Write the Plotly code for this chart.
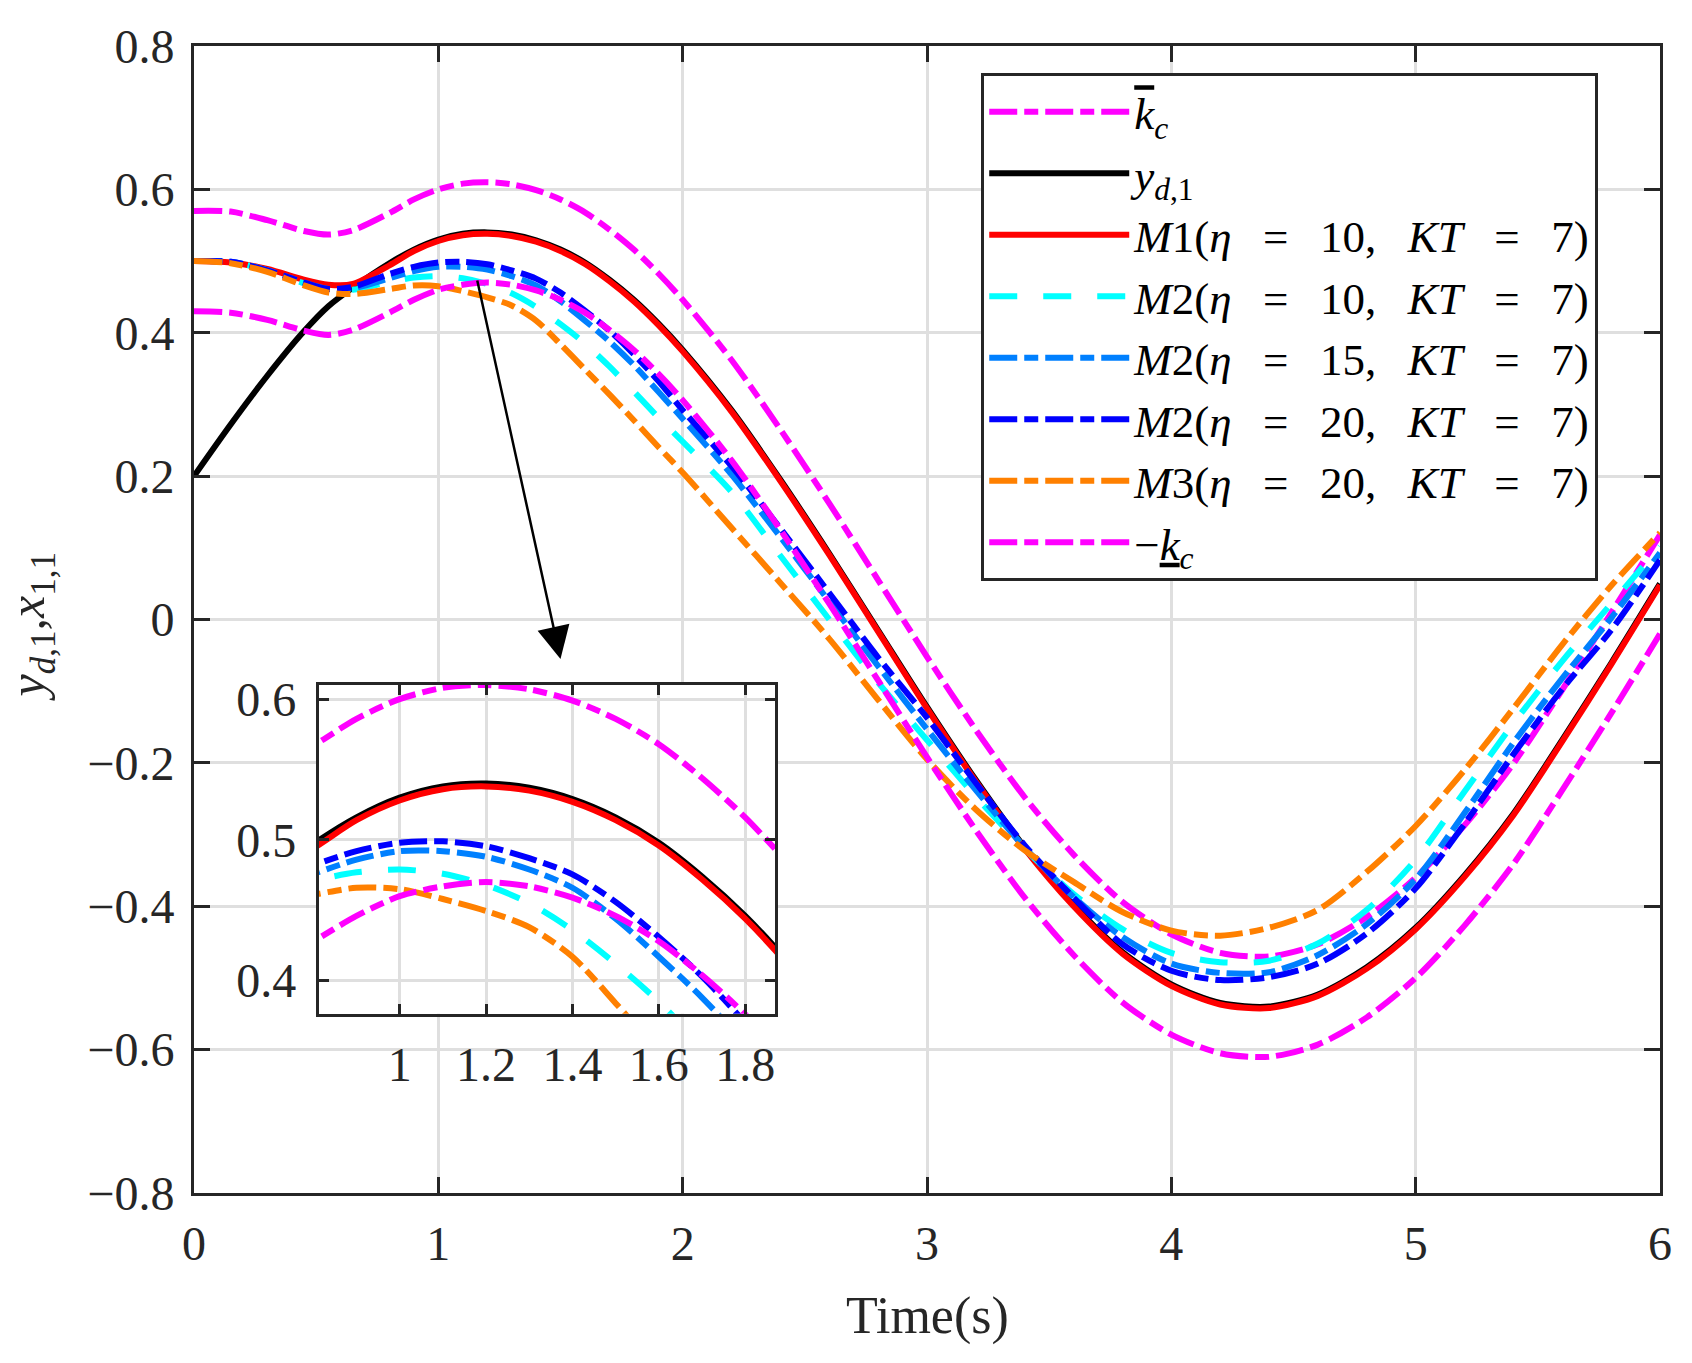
import plotly.graph_objects as go

# ---------------- data ----------------
t = [0, 0.15, 0.3, 0.45, 0.55, 0.65, 0.8, 0.9, 1.0, 1.1, 1.2, 1.3, 1.4, 1.5, 1.6, 1.7, 1.8, 1.9,
     2.0, 2.2, 2.4, 2.6, 2.8, 3.0, 3.2, 3.4, 3.6, 3.8, 4.0, 4.2, 4.4, 4.6, 4.8, 5.0, 5.2, 5.4,
     5.6, 5.8, 6.0]

kc_upper = [0.570, 0.569, 0.557, 0.542, 0.537, 0.543, 0.567, 0.586, 0.600, 0.608, 0.610, 0.607,
            0.599, 0.586, 0.568, 0.544, 0.516, 0.483, 0.446, 0.362, 0.265, 0.162, 0.055, -0.052,
            -0.154, -0.248, -0.328, -0.394, -0.439, -0.465, -0.470, -0.453, -0.415, -0.360,
            -0.287, -0.201, -0.098, 0.009, 0.118]

yd1 = [0.200, 0.272, 0.340, 0.402, 0.437, 0.463, 0.497, 0.516, 0.530, 0.538, 0.540, 0.537,
       0.529, 0.516, 0.498, 0.474, 0.446, 0.413, 0.376, 0.292, 0.195, 0.092, -0.015, -0.122,
       -0.224, -0.318, -0.398, -0.464, -0.509, -0.535, -0.540, -0.523, -0.485, -0.430, -0.357,
       -0.271, -0.168, -0.061, 0.050]

m1_eta10 = [0.500, 0.498, 0.489, 0.474, 0.467, 0.468, 0.494, 0.514, 0.528, 0.536, 0.538, 0.535,
            0.527, 0.514, 0.496, 0.472, 0.444, 0.411, 0.374, 0.290, 0.193, 0.090, -0.017, -0.124,
            -0.226, -0.320, -0.400, -0.466, -0.511, -0.537, -0.542, -0.525, -0.487, -0.432,
            -0.359, -0.273, -0.170, -0.063, 0.048]

m2_eta10 = [0.500, 0.499, 0.487, 0.469, 0.460, 0.460, 0.471, 0.477, 0.479, 0.476, 0.468, 0.455,
            0.436, 0.412, 0.385, 0.353, 0.318, 0.282, 0.248, 0.178, 0.089, 0.000, -0.088, -0.168,
            -0.247, -0.320, -0.383, -0.432, -0.465, -0.478, -0.476, -0.452, -0.405, -0.335,
            -0.240, -0.145, -0.058, 0.022, 0.102]

m2_eta15 = [0.500, 0.499, 0.487, 0.470, 0.461, 0.462, 0.476, 0.486, 0.492, 0.492, 0.488, 0.479,
            0.466, 0.444, 0.417, 0.388, 0.355, 0.318, 0.280, 0.202, 0.115, 0.025, -0.065, -0.153,
            -0.238, -0.318, -0.387, -0.443, -0.480, -0.493, -0.492, -0.468, -0.425, -0.362,
            -0.270, -0.172, -0.082, 0.002, 0.093]

m2_eta20 = [0.500, 0.499, 0.487, 0.470, 0.461, 0.464, 0.482, 0.492, 0.498, 0.499, 0.4955, 0.487,
            0.4755, 0.456, 0.431, 0.403, 0.370, 0.333, 0.292, 0.214, 0.127, 0.037, -0.053, -0.137,
            -0.228, -0.315, -0.388, -0.453, -0.490, -0.503, -0.499, -0.480, -0.438, -0.375,
            -0.285, -0.188, -0.097, -0.015, 0.083]

m3_eta20 = [0.500, 0.497, 0.485, 0.466, 0.456, 0.454, 0.461, 0.466, 0.465, 0.458, 0.4495, 0.438,
            0.417, 0.384, 0.349, 0.314, 0.278, 0.241, 0.205, 0.128, 0.051, -0.027, -0.112, -0.195,
            -0.265, -0.322, -0.366, -0.408, -0.434, -0.441, -0.430, -0.405, -0.352, -0.288,
            -0.210, -0.124, -0.035, 0.047, 0.121]

kc_lower = [0.430, 0.428, 0.418, 0.403, 0.397, 0.404, 0.428, 0.446, 0.460, 0.467, 0.470, 0.467,
            0.459, 0.446, 0.428, 0.404, 0.376, 0.343, 0.306, 0.222, 0.125, 0.022, -0.085, -0.192,
            -0.294, -0.388, -0.468, -0.534, -0.579, -0.605, -0.610, -0.593, -0.555, -0.500,
            -0.427, -0.341, -0.238, -0.131, -0.020]

x_ticks = [0, 1, 2, 3, 4, 5, 6]
y_ticks = [-0.8, -0.6, -0.4, -0.2, 0, 0.2, 0.4, 0.6, 0.8]
y_tick_text = ["\u22120.8", "\u22120.6", "\u22120.4", "\u22120.2", "0", "0.2", "0.4", "0.6", "0.8"]
inset_x_ticks = [1.0, 1.2, 1.4, 1.6, 1.8]
inset_x_text = ["1", "1.2", "1.4", "1.6", "1.8"]
inset_y_ticks = [0.4, 0.5, 0.6]
inset_y_text = ["0.4", "0.5", "0.6"]

EQ = "\u2002\u2009=\u2002\u2009"   # math spacing around '='
CM = ",\u2002\u2009"
labels = [
    "<span style='text-decoration:overline'><i>k</i></span><sub><i>c</i></sub>",
    "<i>y</i><sub><i>d</i>,1</sub>",
    f"<i>M</i>1(<i>\u03b7</i>{EQ}10{CM}<i>KT</i>{EQ}7)",
    f"<i>M</i>2(<i>\u03b7</i>{EQ}10{CM}<i>KT</i>{EQ}7)",
    f"<i>M</i>2(<i>\u03b7</i>{EQ}15{CM}<i>KT</i>{EQ}7)",
    f"<i>M</i>2(<i>\u03b7</i>{EQ}20{CM}<i>KT</i>{EQ}7)",
    f"<i>M</i>3(<i>\u03b7</i>{EQ}20{CM}<i>KT</i>{EQ}7)",
    "\u2212<span style='text-decoration:underline'><i>k</i></span><sub><i>c</i></sub>",
]

# ---------------- styles ----------------
DASHDOT = "28px,7px,14px,7px"
DASHED = "28px,26px"
series = [
    (kc_upper, "#FF00FF", DASHDOT),
    (yd1, "#000000", "solid"),
    (m1_eta10, "#FF0000", "solid"),
    (m2_eta10, "#00FFFF", DASHED),
    (m2_eta15, "#0080FF", DASHDOT),
    (m2_eta20, "#0000FF", DASHDOT),
    (m3_eta20, "#FF8000", DASHDOT),
    (kc_lower, "#FF00FF", DASHDOT),
]
LW = 6
FONT = "Liberation Serif"
AX = "#262626"

fig = go.Figure()
for (vals, col, dash), lab in zip(series, labels):
    fig.add_trace(go.Scatter(x=t, y=vals, mode="lines", name=lab,
                             line=dict(color=col, width=LW, dash=dash, shape="spline", smoothing=0.8),
                             xaxis="x", yaxis="y"))
for (vals, col, dash), lab in zip(series, labels):
    fig.add_trace(go.Scatter(x=t, y=vals, mode="lines", showlegend=False,
                             line=dict(color=col, width=LW, dash=dash, shape="spline", smoothing=0.8),
                             xaxis="x2", yaxis="y2"))

axis_common = dict(
    showline=True, linecolor=AX, linewidth=3, mirror="ticks",
    ticks="inside", tickcolor=AX, tickwidth=2.5,
    showgrid=True, gridcolor="#dfdfdf", gridwidth=2.5, zeroline=False,
    tickfont=dict(family=FONT, size=48, color=AX),
)

# the page body has an 8px margin, so the figure is sized to fit the window
fig.update_layout(
    width=1684, height=1355,
    margin=dict(l=186, r=32, t=34, b=170),
    paper_bgcolor="white", plot_bgcolor="white",
    xaxis=dict(domain=[0, 1], range=[0, 6], tickvals=x_ticks, ticklen=16,
               ticklabelstandoff=6, **axis_common),
    yaxis=dict(domain=[0, 1], range=[-0.8, 0.8], tickvals=y_ticks, ticktext=y_tick_text,
               ticklen=16, ticklabelstandoff=7, **axis_common),
    xaxis2=dict(domain=[0.0852, 0.3966], anchor="y2", range=[0.813, 1.870],
                tickvals=inset_x_ticks, ticktext=inset_x_text, ticklen=10,
                ticklabelstandoff=7, **axis_common),
    yaxis2=dict(domain=[0.1563, 0.4432], anchor="x2", range=[0.3765, 0.6103],
                tickvals=inset_y_ticks, ticktext=inset_y_text, ticklen=10,
                ticklabelstandoff=10, **axis_common),
    legend=dict(x=0.537, y=0.9765, xanchor="left", yanchor="top",
                bordercolor=AX, borderwidth=3, bgcolor="white",
                font=dict(family=FONT, size=45, color="#000000"),
                itemwidth=140, tracegroupgap=0),
    showlegend=True,
)

fig.add_annotation(x=1.5, y=-0.055, ax=1.158, ay=0.475, xref="x", yref="y",
                   axref="x", ayref="y", text="", showarrow=True, arrowhead=2,
                   arrowsize=2.6, arrowwidth=2.5, arrowcolor="black", standoff=0)
fig.add_annotation(x=0.5, y=-0.107, xref="paper", yref="paper", text="Time(s)",
                   showarrow=False, xanchor="center", yanchor="middle",
                   font=dict(family=FONT, size=52, color=AX))
fig.add_annotation(x=-0.111, y=0.4933, xref="paper", yref="paper",
                   text="<i>y</i><sub><i>d</i>,1</sub>,<i>x</i><sub>1,1</sub>",
                   showarrow=False, textangle=-90, xanchor="center", yanchor="middle",
                   font=dict(family=FONT, size=50, color=AX))

fig.write_html("out.html")
